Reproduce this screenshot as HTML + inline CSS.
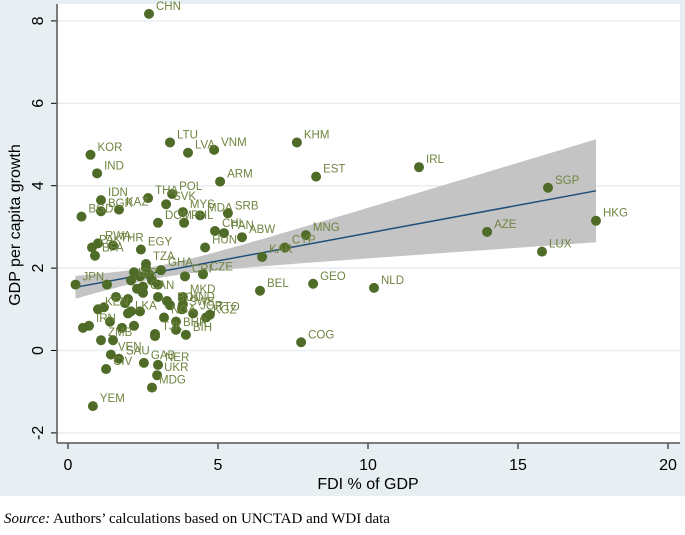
<!DOCTYPE html>
<html><head><meta charset="utf-8">
<style>
html,body{margin:0;padding:0;background:#fff;}
body{width:685px;height:530px;overflow:hidden;font-family:"Liberation Sans",Arial,sans-serif;}
svg text{font-family:"Liberation Sans",Arial,sans-serif;}
</style></head>
<body>
<svg id="chart" width="685" height="530" xmlns="http://www.w3.org/2000/svg">
<rect x="0" y="0" width="685" height="496" fill="#e8eff2"/>
<rect x="57" y="4" width="623" height="439" fill="#ffffff"/>
<g id="grid"></g>
<g id="band"></g>
<g id="points"></g>
<g id="axes"></g>
<text x="368" y="489" font-size="16" text-anchor="middle" fill="#000">FDI % of GDP</text>
<text transform="translate(20,225) rotate(-90)" font-size="16" text-anchor="middle" fill="#000">GDP per capita growth</text>
<text x="4" y="523" font-size="15" fill="#000" style="font-family:'Liberation Serif',serif"><tspan font-style="italic">Source:</tspan> Authors’ calculations based on UNCTAD and WDI data</text>
</svg>
<script>
const labels = ["CHN","KOR","IND","LTU","LVA","VNM","KHM","EST","IRL","SGP","HKG","AZE","LUX","ARM","POL","THA","IDN","KAZ","BGD","BGR","SVK","MYS","SRB","MDA","DOM","PHL","CHL","PAN","ABW","HUN","MNG","CYP","KAR","EGY","RWA","PAK","BFA","CZE","JPN","MKD","HND","BEL","GEO","NLD","JOR","TTO","KGZ","BIH","BHR","COG","VEN","CIV","SAU","GAB","NER","UKR","MDG","YEM","ZMB","IRN","KEN","TZA","GHA","ISR","CAN","NGA","TJK","BOL","CRI","SWE","THR","LKA","", "", "", "", "", "", "", "", "", "", "", "", "", "", "", "", "", "", "", "", "", "", "", ""];
const xVals = [2.7,0.75,0.97,3.4,4.0,4.87,7.63,8.27,11.7,16.0,17.6,13.97,15.8,5.07,3.47,2.67,1.1,1.7,0.45,1.1,3.27,3.83,5.33,4.4,3.0,3.87,4.9,5.2,5.8,4.57,7.93,7.23,6.47,2.43,1.0,0.8,0.9,4.5,0.25,3.83,3.83,6.4,8.17,10.2,4.17,4.73,4.6,3.93,3.6,7.77,1.43,1.27,1.7,2.53,3.0,2.97,2.8,0.83,1.1,0.7,1.0,2.6,3.1,2.1,2.5,3.2,2.9,3.4,3.9,3.8,1.5,2.0,2.2,2.4,2.6,2.8,3.0,2.3,2.7,1.6,1.9,2.1,2.5,1.4,1.8,2.2,3.3,1.2,0.5,1.3,2.9,3.6,1.5,2.4,3.0,2.0];
const yVals = [8.17,4.75,4.3,5.05,4.8,4.87,5.05,4.22,4.45,3.95,3.15,2.88,2.4,4.1,3.8,3.7,3.65,3.42,3.25,3.38,3.55,3.36,3.33,3.28,3.1,3.1,2.9,2.85,2.75,2.5,2.8,2.5,2.27,2.45,2.6,2.5,2.3,1.85,1.6,1.3,1.12,1.45,1.62,1.52,0.9,0.87,0.8,0.38,0.5,0.2,-0.1,-0.45,-0.2,-0.3,-0.35,-0.6,-0.9,-1.35,0.25,0.6,1.0,2.1,1.95,1.7,1.4,0.8,0.4,1.1,1.8,1.0,2.55,0.9,1.9,1.8,2.0,1.7,1.6,1.5,1.85,1.3,1.15,0.95,1.55,0.7,0.55,0.6,1.2,1.05,0.55,1.6,0.35,0.7,0.25,0.95,1.3,1.25];
const yTicks = ["-2","0","2","4","6","8"];
const xTicks = ["0","5","10","15","20"];
const fitCoef = [1.5, 0.135];
const ciCoef = [0.0225, 0.00723, 3.0];
const NS="http://www.w3.org/2000/svg";
const X = v => 68 + v*30;
const Y = v => 350.5 - v*41.2;
function mk(tag, attrs, parent){const e=document.createElementNS(NS,tag);for(const k in attrs)e.setAttribute(k,attrs[k]);parent.appendChild(e);return e;}
const grid=document.getElementById('grid'), axes=document.getElementById('axes'), band=document.getElementById('band'), pts=document.getElementById('points');
yTicks.forEach(t=>{const v=+t;
 const g=mk('line',{x1:57,x2:680,y1:Y(v),y2:Y(v),stroke:'#e6eef2','stroke-width':1.5},grid);
 
 
 const tk=mk('line',{x1:51,x2:57,y1:Y(v),y2:Y(v),stroke:'#000','stroke-width':1},axes);
 
 
 const tx=mk('text',{transform:`translate(43,${Y(v)}) rotate(-90)`,'font-size':16,'text-anchor':'middle',fill:'#000'},axes);
 tx.textContent=t;
 
 
});
xTicks.forEach(t=>{const v=+t;
 const tk=mk('line',{x1:X(v),x2:X(v),y1:443,y2:449,stroke:'#000','stroke-width':1},axes);
 
 
 const tx=mk('text',{x:X(v),y:470,'font-size':16,'text-anchor':'middle',fill:'#000'},axes);
 tx.textContent=t;
 
 
});
const ax1=mk('line',{x1:57,x2:57,y1:4,y2:443,stroke:'#555','stroke-width':1.5},axes);


const ax2=mk('line',{x1:57,x2:680,y1:443,y2:443,stroke:'#555','stroke-width':1.5},axes);


const xmin=Math.min(...xVals), xmax=Math.max(...xVals);
let up=[],lo=[];
for(let i=0;i<=60;i++){const x=xmin+(xmax-xmin)*i/60;const f=fitCoef[0]+fitCoef[1]*x;const h=Math.sqrt(ciCoef[0]+ciCoef[1]*(x-ciCoef[2])**2);up.push(`${X(x)},${Y(f+h)}`);lo.unshift(`${X(x)},${Y(f-h)}`);}
const poly=mk('polygon',{points:up.concat(lo).join(' '),fill:'#c4c4c4'},band);


const fl=mk('line',{x1:X(xmin),y1:Y(fitCoef[0]+fitCoef[1]*xmin),x2:X(xmax),y2:Y(fitCoef[0]+fitCoef[1]*xmax),stroke:'#1f4e79','stroke-width':1.5},band);


xVals.forEach((xv,i)=>{
 const c=mk('circle',{cx:X(xv),cy:Y(yVals[i]),r:5,fill:'#4e6b27'},pts);
 
 
});
xVals.forEach((xv,i)=>{ if(!labels[i])return;
 const t=mk('text',{x:X(xv)+7,y:Y(yVals[i])-4,'font-size':11.5,fill:'#6f8440'},pts);
 t.textContent=labels[i];
 
 
});
</script>
</body></html>
